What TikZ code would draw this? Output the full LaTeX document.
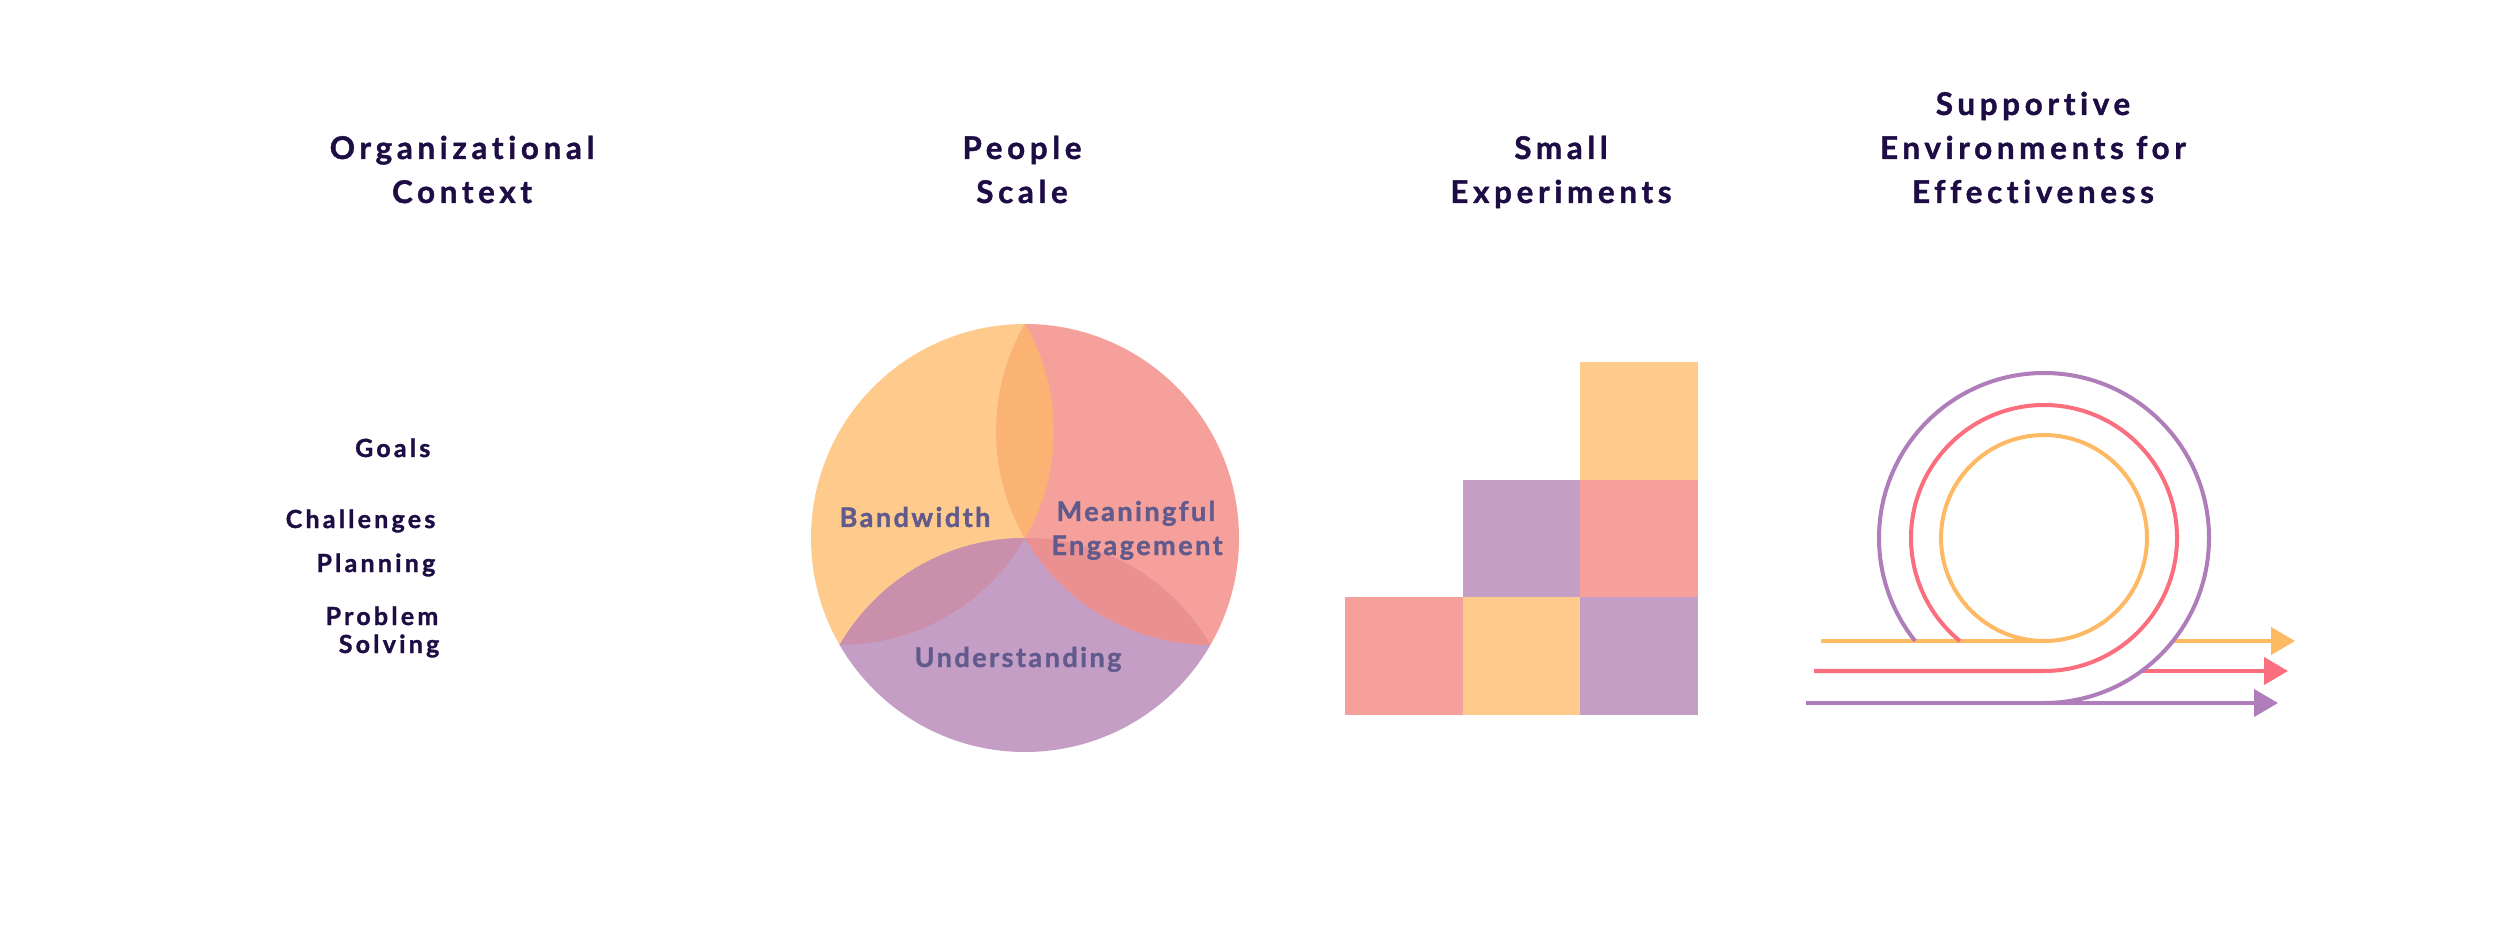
\documentclass[tikz,border=0pt]{standalone}
\usepackage{fontspec}
\usetikzlibrary{arrows.meta}
\newfontfamily\tf{Lato}[LetterSpace=15, Ligatures={NoCommon,NoRare}, BoldFeatures={FakeBold=1.3}]
\newfontfamily\vf{Lato}[LetterSpace=9, Ligatures={NoCommon,NoRare}, BoldFeatures={FakeBold=1.3}]
\newfontfamily\lf{Lato}[LetterSpace=13, Ligatures={NoCommon,NoRare}, BoldFeatures={FakeBold=1.3}]
\definecolor{titlec}{HTML}{1E0C45}
\definecolor{vennc}{HTML}{615A8C}
\definecolor{corange}{HTML}{FFCB8D}
\definecolor{cpink}{HTML}{F5A09A}
\definecolor{cpurple}{HTML}{C59EC6}
\definecolor{cop}{HTML}{FBB374}
\definecolor{copu}{HTML}{C98FAB}
\definecolor{cpkpu}{HTML}{EB9091}
\definecolor{lor}{HTML}{FDB964}
\definecolor{lpk}{HTML}{FA6E7D}
\definecolor{lpu}{HTML}{AF7DB9}
\begin{document}
\begin{tikzpicture}[x=0.01cm,y=-0.01cm,
  ttl/.style={anchor=base, text=titlec, font=\tf\bfseries\fontsize{8.9}{10}\selectfont, inner sep=0pt},
  lbl/.style={anchor=base east, text=titlec, font=\lf\bfseries\fontsize{7.1}{8}\selectfont, inner sep=0pt},
  vlbl/.style={anchor=base, text=vennc, font=\vf\bfseries\fontsize{7.7}{9}\selectfont, inner sep=0pt},
  sq/.style={anchor=north west, minimum size=1.175cm, inner sep=0pt, outer sep=0pt},
  ln/.style={line width=1.14pt},
  tip/.style={-{Triangle[length=0.24cm,width=0.27cm]}}]
\useasboundingbox[fill=white] (0,0) rectangle (2500,937);

% titles
\node[ttl] (t1a) at (462,159) {Organizational};
\node[ttl] (t1b) at (462,203) {Context};
\node[ttl] (t2a) at (1022,159) {People};
\node[ttl] (t2b) at (1022,203) {Scale};
\node[ttl] (t3a) at (1561,159) {Small};
\node[ttl] (t3b) at (1561,203) {Experiments};
\node[ttl] (t4a) at (2033,115) {Supportive};
\node[ttl] (t4b) at (2033,159) {Environments for};
\node[ttl] (t4c) at (2033,203) {Effectiveness};

% left labels
\node[lbl] (goals) at (431,457) {Goals};
\node[lbl] (chal) at (436,528) {Challenges};
\node[lbl] (plan) at (436,572) {Planning};
\node[lbl] (prob) at (439,625) {Problem};
\node[lbl] (solv) at (440,653) {Solving};

% venn
\coordinate (vO) at (1025,538);
\coordinate (vA) at (839.7,431);
\coordinate (vB) at (1210.3,431);
\coordinate (vC) at (1025,752);
\begin{scope}
\clip (vO) circle[radius=214];
\fill[corange] (vA) circle[radius=214];
\fill[cpink] (vB) circle[radius=214];
\fill[cpurple] (vC) circle[radius=214];
\begin{scope}
\clip (vA) circle[radius=214];
\fill[cop] (vB) circle[radius=214];
\fill[copu] (vC) circle[radius=214];
\end{scope}
\begin{scope}
\clip (vB) circle[radius=214];
\fill[cpkpu] (vC) circle[radius=214];
\end{scope}
\end{scope}
\node[vlbl] (bw) at (915,527) {Bandwidth};
\node[vlbl] (me1) at (1136,521) {Meaningful};
\node[vlbl] (me2) at (1137,555) {Engagement};
\node[vlbl] (und) at (1018,667) {Understanding};

% squares
\node[sq, fill=corange] (s1) at (1580,362) {};
\node[sq, fill=cpurple] (s2) at (1463,480) {};
\node[sq, fill=cpink] (s3) at (1580,480) {};
\node[sq, fill=cpink] (s4) at (1345,597) {};
\node[sq, fill=corange] (s5) at (1463,597) {};
\node[sq, fill=cpurple] (s6) at (1580,597) {};

% loops
\coordinate (lc) at (2044,538);
\coordinate (oa) at (1821,641);
\coordinate (ob) at (2044,641);
\coordinate (oc) at (2173,641);
\coordinate (od) at (2295,641);
\coordinate (pa) at (1814,671);
\coordinate (pb) at (2044,671);
\coordinate (pc) at (2142,671);
\coordinate (pd) at (2288,671);
\coordinate (ua) at (1806,703);
\coordinate (ub) at (2044,703);
\coordinate (ud) at (2278,703);
\draw[ln, lor] (oa) -- (ob);
\draw[ln, lor] (lc) circle[radius=103];
\draw[ln, lor, tip] (oc) -- (od);
\draw[ln, lpk] (pa) -- (pb) arc[start angle=90, end angle=-230.8, radius=133];
\draw[ln, lpk, tip] (pc) -- (pd);
\draw[ln, lpu, tip] (ua) -- (ud);
\draw[ln, lpu] (ub) arc[start angle=90, end angle=-218.6, radius=165];
\end{tikzpicture}
\end{document}
